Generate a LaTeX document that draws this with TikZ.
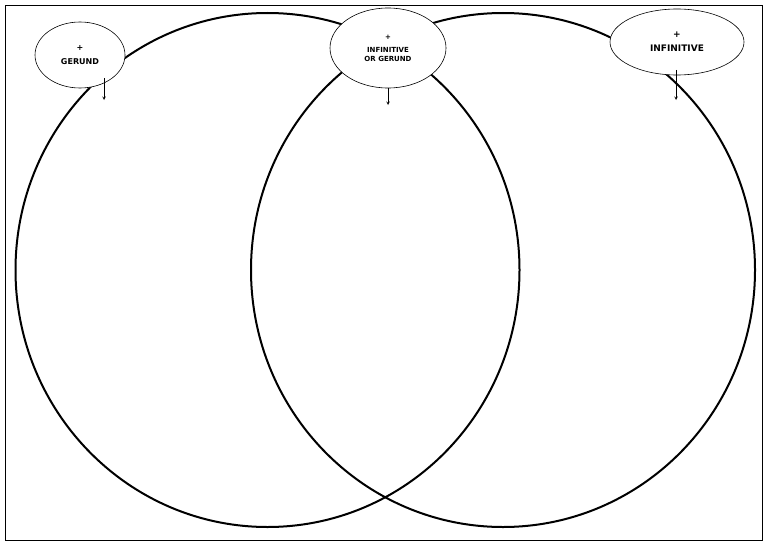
\documentclass[tikz,border=0pt]{standalone}
\usepackage{fontspec}
\setmainfont{DejaVu Sans}
\usetikzlibrary{shapes.geometric}
\begin{document}
\begin{tikzpicture}[x=1pt,y=-1pt,
  big/.style={line width=2pt},
  tag/.style={draw,ellipse,line width=0.6pt,fill=white,align=center,font=\bfseries\fontsize{8}{10}\selectfont,inner sep=0pt},
  pt/.style={->,>=stealth,line width=0.6pt}]
\useasboundingbox (0,0) rectangle (768,543);
\draw[line width=0.6pt] (5,5) rectangle (762,540);
\draw[big] (267.5,270) ellipse [x radius=252, y radius=257];
\draw[big] (503,270) ellipse [x radius=252, y radius=257];
\node[tag,minimum width=90,minimum height=66] (g) at (80,55) {+\\[4pt]GERUND};
\node[tag,minimum width=116,minimum height=80,font=\bfseries\fontsize{7}{9}\selectfont] (m) at (388,48) {+\\[4pt]INFINITIVE\\OR GERUND};
\node[tag,minimum width=134,minimum height=66,font=\bfseries\fontsize{9}{11}\selectfont] (i) at (677,42) {+\\[3pt]INFINITIVE};
\coordinate (ga) at (104,100);
\coordinate (ma) at (388,105);
\coordinate (ia) at (676,100);
\draw[pt] (104,78) -- (ga);
\draw[pt] (m.south) -- (ma);
\draw[pt] (676,70) -- (ia);
\end{tikzpicture}
\end{document}
